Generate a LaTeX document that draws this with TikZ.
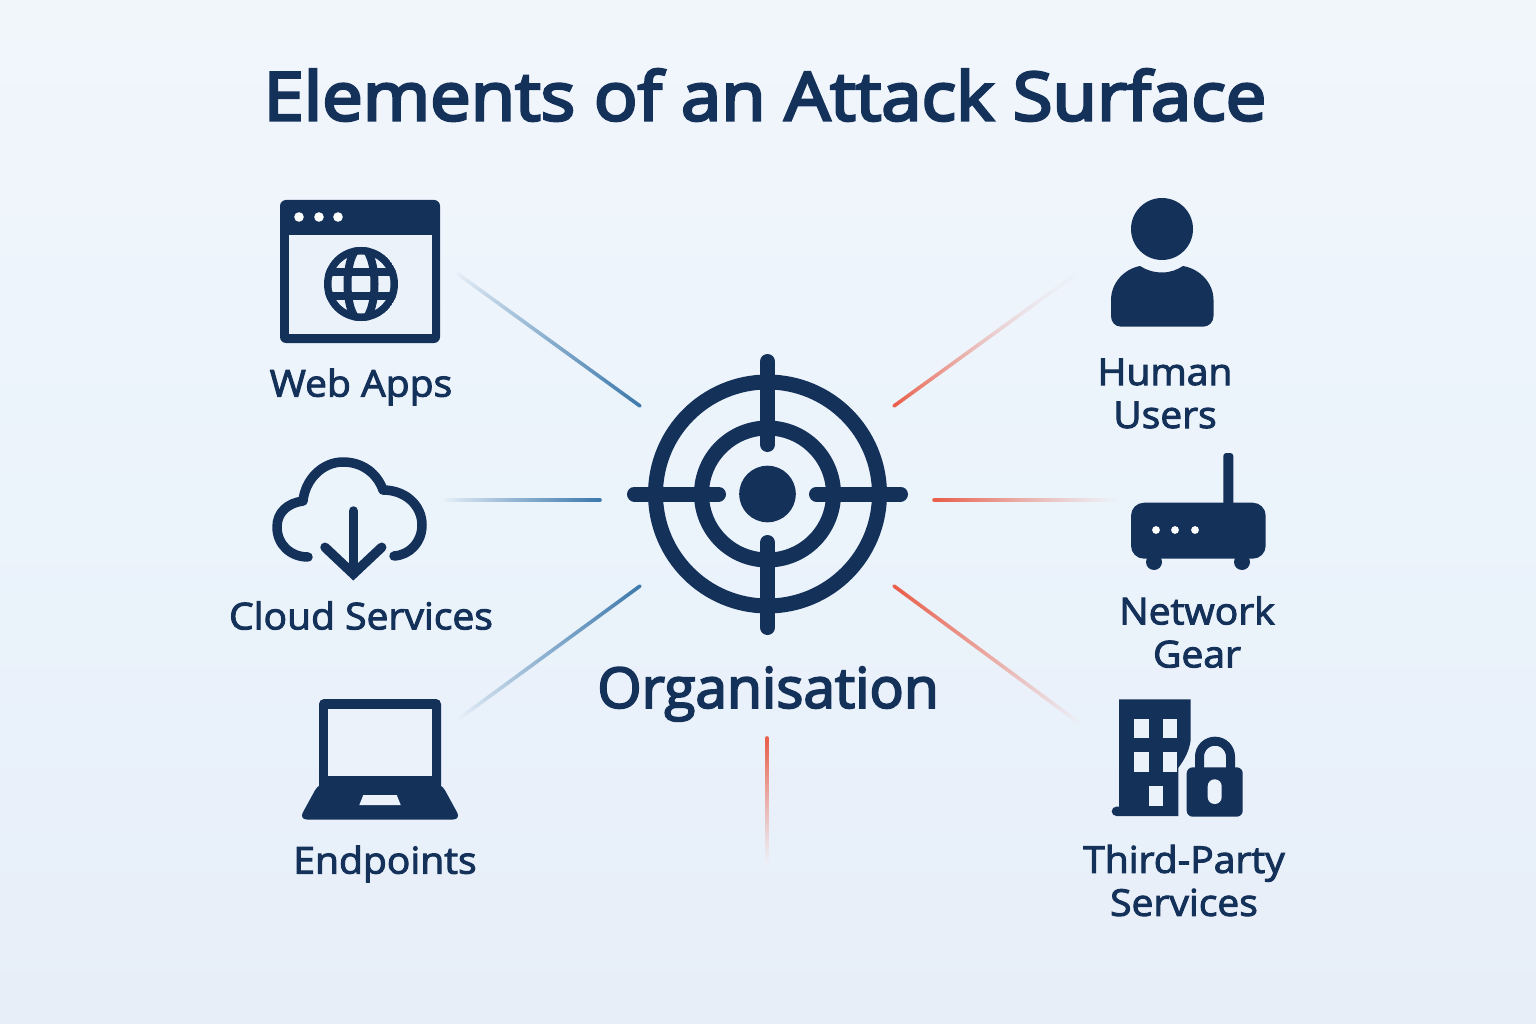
\documentclass[tikz,border=0pt]{standalone}
\usepackage{fontspec}
\setmainfont{Open Sans}[FakeBold=2.6,FakeStretch=1.055]
\newfontfamily\titlefont{Open Sans}[FakeBold=4.2,FakeStretch=1.08]
\newfontfamily\orgfont{Open Sans}[FakeBold=3.4,FakeStretch=1.015]
\usetikzlibrary{calc}
\definecolor{ink}{HTML}{14315A}
\definecolor{bgtop}{HTML}{F1F6FB}
\definecolor{bgmid}{HTML}{EBF3FB}
\definecolor{bgbot}{HTML}{E7EEF8}
\definecolor{hole}{HTML}{EBF2FA}
\definecolor{linkblue}{HTML}{3F7BAD}
\definecolor{linkred}{HTML}{E9604C}
\tikzset{
  x=1pt,y=-1pt,
  label text/.style={text=ink,font=\fontsize{37}{43}\selectfont,align=center,inner sep=0pt},
  solid ink/.style={fill=ink,draw=none},
  ring/.style={draw=ink,line width=15pt},
  tick/.style={draw=ink,line width=15pt,line cap=round},
  iconline/.style={draw=ink,line width=9.5pt,line cap=round,line join=round},
  gap/.style={fill=hole,draw=none},
}
\newcommand{\fadelink}[4]{% faint end #1, strong end #2, colour #3, ramp exponent #4
  \foreach \i in {0,...,59}{
    \pgfmathsetmacro{\ta}{\i/60}
    \pgfmathsetmacro{\tb}{(\i+1)/60}
    \pgfmathsetmacro{\op}{100*((\i+1)/60)^#4}
    \draw[#3!\op!hole,line width=3.6pt,line cap=round] ($(#1)!\ta!(#2)$) -- ($(#1)!\tb!(#2)$);
  }
}
\begin{document}
\begin{tikzpicture}
\useasboundingbox (0,0) rectangle (1536,1024);
\fill[top color=bgtop,bottom color=bgmid] (0,0) rectangle (1536,512);
\fill[top color=bgmid,bottom color=bgbot] (0,512) rectangle (1536,1024);

\node[text=ink,font=\titlefont\fontsize{67}{70}\selectfont,inner sep=0pt] (title) at (765,95) {Elements of an Attack Surface};

% connectors
\coordinate (webfar) at (458,274);  \coordinate (webnear) at (640,406);
\coordinate (cloudfar) at (445,500); \coordinate (cloudnear) at (600,500);
\coordinate (endfar) at (460,718);  \coordinate (endnear) at (640,586);
\coordinate (humanfar) at (1076,274); \coordinate (humannear) at (894,406);
\coordinate (netfar) at (1115,500); \coordinate (netnear) at (934,500);
\coordinate (thirdfar) at (1078,722); \coordinate (thirdnear) at (894,586);
\coordinate (downfar) at (767,865); \coordinate (downnear) at (767,738);
\fadelink{webfar}{webnear}{linkblue}{0.85}
\fadelink{cloudfar}{cloudnear}{linkblue}{0.9}
\fadelink{endfar}{endnear}{linkblue}{0.85}
\fadelink{humanfar}{humannear}{linkred}{1.8}
\fadelink{netfar}{netnear}{linkred}{1.2}
\fadelink{thirdfar}{thirdnear}{linkred}{1.0}
\fadelink{downfar}{downnear}{linkred}{1.2}

% target
\draw[ring] (767.5,494) circle (112);
\draw[ring] (767.5,494) circle (66);
\fill[solid ink] (767.5,494) circle (28.3);
\draw[tick] (767.5,361.5) -- (767.5,444.5);
\draw[tick] (767.5,542.5) -- (767.5,627.5);
\draw[tick] (634.5,494) -- (718.5,494);
\draw[tick] (816.5,494) -- (900.5,494);
\node[text=ink,font=\orgfont\fontsize{56}{60}\selectfont,inner sep=0pt] (org) at (768,694) {Organisation};

% browser
\fill[solid ink,rounded corners=6pt] (280,200) rectangle (440,343);
\fill[gap] (289,235) rectangle (432,334);
\foreach \x in {299,319,338} \fill[white!90!hole] (\x,217) circle (4.8);
\begin{scope}
  \clip (361,284) circle (37);
  \fill[solid ink] (361,284) circle (37);
  \fill[gap] (361,284) circle (29.5);
  \draw[ink,line width=8pt] (361,284) ellipse (13.5 and 37);
  \draw[ink,line width=8pt] (320,272) -- (402,272);
  \draw[ink,line width=8pt] (320,296) -- (402,296);
\end{scope}
\node[label text] (web) at (361,387) {Web Apps};

% cloud
\draw[iconline] (308,557) .. controls (290,557) and (277,544) .. (277,527)
  .. controls (277,512) and (288,503) .. (303,501)
  .. controls (305,480) and (322,462) .. (343,462)
  .. controls (362,462) and (377,473) .. (383,490)
  .. controls (405,490) and (422,505) .. (422,525)
  .. controls (422,542) and (410,555) .. (394,556);
\draw[iconline] (353.3,511) -- (353.3,572);
\draw[iconline,line join=miter] (325,547.3) -- (353.3,574) -- (381.7,547.3);
\node[label text] (cloud) at (361,615.5) {Cloud Services};

% laptop
\fill[solid ink,rounded corners=5pt] (319,699) -- (441,699) -- (441,790) -- (319,790) -- cycle;
\fill[solid ink,rounded corners=8pt] (319,783) -- (441,783) -- (461,819.5) -- (299,819.5) -- cycle;
\fill[solid ink] (319,776) rectangle (441,790);
\fill[gap] (328,708.7) rectangle (432,776);
\fill[gap] (363.3,795) -- (396.7,795) -- (400.7,805) -- (359.3,805) -- cycle;
\node[label text] (end) at (385,864) {Endpoints};

% person
\fill[solid ink] (1162,229) circle (31);
\fill[solid ink] (1121,326.7) .. controls (1115,326.7) and (1111,322) .. (1111,316) -- (1111,300)
  .. controls (1111,283) and (1124,269) .. (1140,266)
  .. controls (1146,270) and (1154,272.5) .. (1162,272.5)
  .. controls (1170,272.5) and (1177,270) .. (1183,266)
  .. controls (1200,269) and (1213.5,283) .. (1213.5,300) -- (1213.5,316)
  .. controls (1213.5,322) and (1209,326.7) .. (1203,326.7) -- cycle;
\node[label text] (human) at (1165,393.5) {Human\\Users};

% router
\fill[solid ink,rounded corners=3pt] (1223.3,453) rectangle (1233.3,510);
\fill[solid ink] (1154,562) circle (8);
\fill[solid ink] (1242,562) circle (8);
\fill[solid ink,rounded corners=13pt] (1131,502.7) rectangle (1265.7,558.7);
\foreach \x in {1156,1175,1195} \fill[white!90!hole] (\x,530) circle (3.9);
\node[label text] (net) at (1197,632) {Network\\Gear};

% building
\fill[solid ink] (1119,699.3) -- (1190.7,699.3) -- (1190.7,740)
  .. controls (1189,752) and (1184,760) .. (1178.3,768) -- (1178.3,816)
  -- (1116.4,816) arc[start angle=90,end angle=270,radius=4.7] -- (1119,806.6) -- cycle;
\foreach \x/\y in {1134/718.7,1162.7/718.7,1134/752,1162.7/752}
  \fill[gap] (\x,\y) rectangle ++(14.5,19.6);
\fill[gap] (1149,786) rectangle (1162.7,805.7);
% lock
\draw[ink,line width=9pt] (1199.5,772) -- (1199.5,756.7) arc[start angle=180,end angle=360,radius=15.5] -- (1230.5,772);
\fill[solid ink,rounded corners=6pt] (1186.7,767.3) rectangle (1242.7,816.7);
\fill[gap,rounded corners=6.9pt] (1207.7,779.3) rectangle (1221.7,804);
\node[label text] (third) at (1184,880.5) {Third-Party\\Services};
\end{tikzpicture}
\end{document}
